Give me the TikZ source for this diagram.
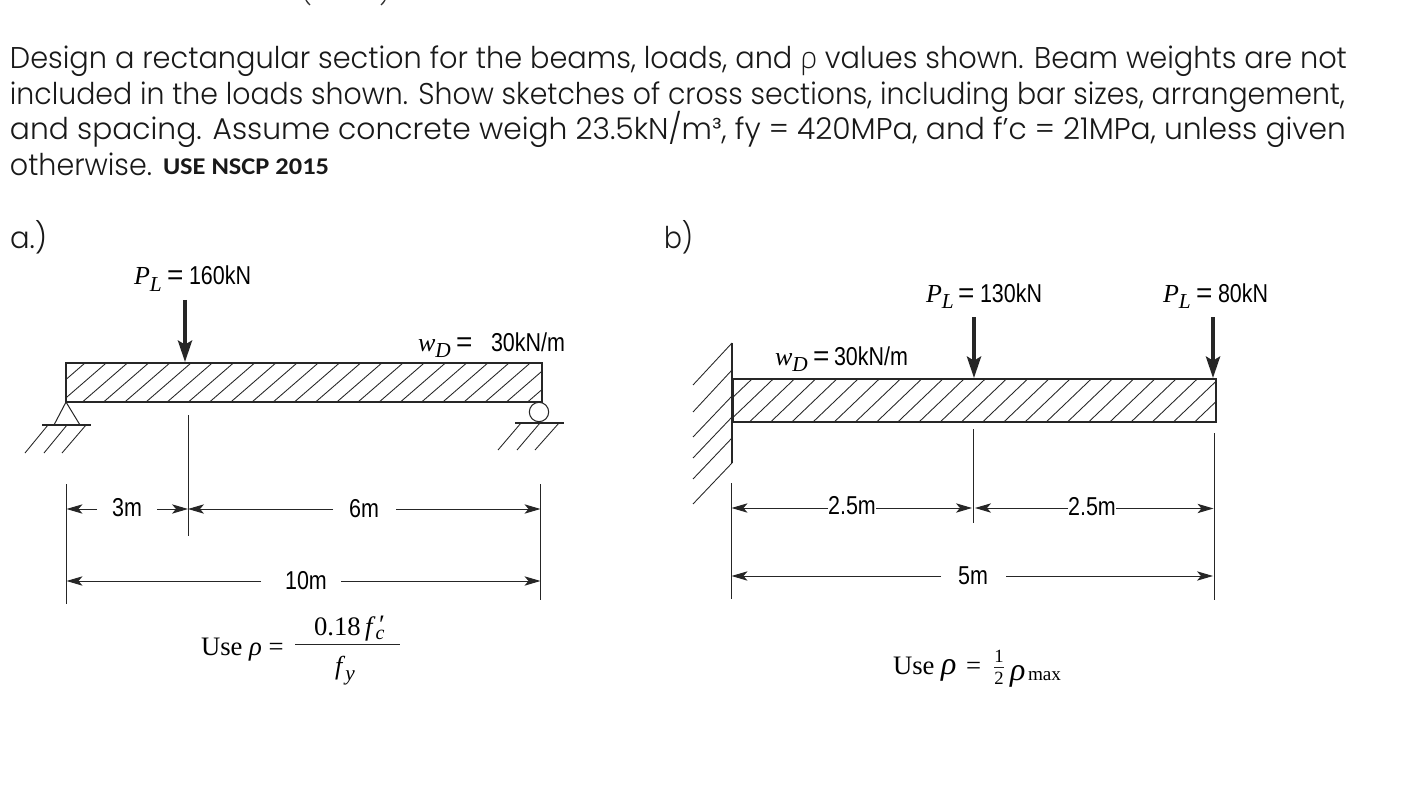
\documentclass[tikz,border=0pt]{standalone}
\usepackage{fontspec}
\usepackage{graphicx}
\setmainfont{Liberation Serif}
\setsansfont{Liberation Sans}
\newfontfamily\hdfont[UprightFont=* Light]{Poppins}
\newfontfamily\brfont{Carlito}
\newfontfamily\rhofont{Open Sans Light}
\usetikzlibrary{arrows.meta}
\newlength{\fitlen}
\newcommand{\fitw}[2]{\settowidth{\fitlen}{#2}\pgfmathsetmacro{\fitr}{#1*0.75/(\fitlen/1pt)}\scalebox{\fitr}[1]{#2}}
\newcommand{\lbl}[1]{\scalebox{.83}[1]{\sffamily\fontsize{19.4}{21}\selectfont #1}}
\newcommand{\eqs}{{\sffamily\fontsize{21}{22}\selectfont =}}
\newcommand{\mth}[2]{\fontsize{19.5}{21}\selectfont\textit{#1}\raisebox{-5pt}{\fontsize{16}{17}\selectfont\textit{#2}}}
\tikzset{
  x=0.75pt,y=-0.75pt,
  every node/.style={inner sep=0pt,outer sep=0pt},
  hd/.style={anchor=base west,text=black!90},
  tag/.style={anchor=base west},
  beamline/.style={line width=.8pt,draw=black!85},
  hatchline/.style={line width=.65pt,draw=black!85},
  extline/.style={line width=.75pt,draw=black!85},
  dimarrow/.style={line width=.75pt,draw=black!85,-{Stealth[length=12pt,width=7pt,inset=3pt]}},
  loadarrow/.style={line width=3pt,draw=black!85,-{Stealth[length=16pt,width=10.5pt,inset=3pt]}},
  groundline/.style={line width=2pt,draw=black!85},
}
\begin{document}
\begin{tikzpicture}
\useasboundingbox (0,0) rectangle (1422,788);
\fill[white] (0,0) rectangle (1422,788);
% header
\newcommand{\hdtxt}[1]{{\hdfont\fontsize{22.5}{26}\selectfont #1}}
\node[hd] (l1) at (10,69) {\fitw{1337}{\hdtxt{Design a rectangular section for the beams, loads, and {\rhofont ρ} values shown. Beam weights are not}}};
\node[hd] (l2) at (10,105) {\fitw{1335}{\hdtxt{included in the loads shown. Show sketches of cross sections, including bar sizes, arrangement,}}};
\node[hd] (l3) at (10,140) {\fitw{1336}{\hdtxt{and spacing. Assume concrete weigh 23.5kN/m³, fy = 420MPa, and f’c = 21MPa, unless given}}};
\node[hd] (l4) at (10,176) {\fitw{142}{\hdtxt{otherwise.}}};
\node[hd] (l5) at (163,175) {\fitw{166}{\brfont\bfseries\fontsize{18}{20}\selectfont USE NSCP 2015}};
\node[hd] (pa) at (10,249) {\fitw{37}{\hdtxt{a.)}}};
\node[hd] (pb) at (664,249) {\fitw{29}{\hdtxt{b)}}};
\draw[line width=1pt,black!80] (306,0) .. controls (307,2) and (308,3) .. (310,5);
\draw[line width=1pt,black!80] (385,0) .. controls (384,2) and (383,3) .. (381,5);
% beam a
\coordinate (aTL) at (66,363);
\coordinate (aBR) at (542,402);
\begin{scope}
\clip (aTL) rectangle (aBR);
\foreach \i in {0,...,25} \draw[hatchline] ({85+\i*21.2-45},402) -- ({85+\i*21.2},363);
\end{scope}
\draw[beamline] (aTL) rectangle (aBR);
% load a
\coordinate (la1) at (185,300);
\coordinate (la2) at (185,362);
\draw[loadarrow] (la1) -- (la2);
\node[tag] (pl1) at (134,285) {\mth{P}{L}};
\node[tag] (pl1e) at (167,285) {\eqs};
\node[tag] (pl1t) at (189,285) {\lbl{160kN}};
\node[tag] (wd1) at (418,351) {\mth{w}{D}};
\node[tag] (wd1e) at (456,351) {\eqs};
\node[tag] (wd1v) at (491,351) {\lbl{30kN/m}};
% pin support
\coordinate (p0) at (66,402);
\coordinate (p1) at (54,425);
\coordinate (p2) at (80,425);
\draw[extline] (p1) -- (p0) -- (p2);
\coordinate (g1) at (42,425);
\coordinate (g2) at (91,425);
\draw[groundline] (g1) -- (g2);
\foreach \a/\b in {25/48,44/67,62/86} \draw[hatchline] (\a,453) -- (\b,425);
% roller
\node[circle,draw=black!85,line width=.8pt,minimum size=14.5pt,fill=white] (roll) at (539,412) {};
\coordinate (g3) at (515,423);
\coordinate (g4) at (564,423);
\draw[groundline] (g3) -- (g4);
\foreach \a/\b in {498/521,517/540,535/559} \draw[hatchline] (\a,450) -- (\b,423);
% dimensions a
\draw[extline] (66.5,484) -- (66.5,604);
\draw[extline] (188,415) -- (188,536);
\draw[extline] (540.5,484) -- (540.5,600);
\node (d3) at (127,508) {\lbl{3m}};
\node (d6) at (364,509) {\lbl{6m}};
\node (d10) at (306,581) {\lbl{10m}};
\coordinate (a0y) at (66.5,509);
\coordinate (a1y) at (188,509);
\coordinate (a2y) at (540.5,509);
\draw[dimarrow] (97,509) -- (a0y);
\draw[dimarrow] (157,509) -- (a1y);
\draw[dimarrow] (333,509) -- (a1y);
\draw[dimarrow] (396,509) -- (a2y);
\coordinate (a3y) at (66.5,581);
\coordinate (a4y) at (540.5,581);
\draw[dimarrow] (261,581) -- (a3y);
\draw[dimarrow] (341,581) -- (a4y);
% use rho a
\node[tag,font=\fontsize{20}{22}\selectfont] (ua) at (201,655) {Use \textit{ρ} =};
\node[anchor=base,font=\fontsize{20}{22}\selectfont] (num) at (349.5,635) {0.18\,\textit{f}\raisebox{-3pt}{\fontsize{15}{16}\selectfont\textit{c}}\kern-4pt\raisebox{1.5pt}{\fontsize{20}{22}\selectfont ′}};
\node[anchor=base] (den) at (345,674) {\mth{f}{y}};
\coordinate (f1) at (295,644);
\coordinate (f2) at (400,644);
\draw[line width=.75pt,black!85] (f1) -- (f2);
% beam b
\coordinate (bTL) at (733,379);
\coordinate (bBR) at (1216,422);
\begin{scope}
\clip (bTL) rectangle (bBR);
\foreach \i in {0,...,25} \draw[hatchline] ({752+\i*21.2-45},422) -- ({752+\i*21.2},379);
\end{scope}
\draw[beamline] (bTL) rectangle (bBR);
% wall
\coordinate (w1) at (732,343);
\coordinate (w2) at (732,463);
\draw[beamline] (w1) -- (w2);
\foreach \a/\b in {343/385,370/412,396/437,417/458,438/479,463/504} \draw[hatchline] (732,\a) -- (693,\b);
% loads b
\draw[loadarrow] (974,317) -- (974,378);
\draw[loadarrow] (1213,317) -- (1213,378);
\node[tag] (pl2) at (926,302) {\mth{P}{L}};
\node[tag] (pl2e) at (958,302) {\eqs};
\node[tag] (pl2t) at (980,302) {\lbl{130kN}};
\node[tag] (pl3) at (1163,302) {\mth{P}{L}};
\node[tag] (pl3e) at (1196,302) {\eqs};
\node[tag] (pl3t) at (1218,302) {\lbl{80kN}};
\node[tag] (wd2) at (775,365) {\mth{w}{D}};
\node[tag] (wd2e) at (813,365) {\eqs};
\node[tag] (wd2t) at (834,365) {\lbl{30kN/m}};
% dimensions b
\draw[extline] (731.5,483) -- (731.5,599);
\draw[extline] (973.5,429) -- (973.5,523);
\draw[extline] (1214,433) -- (1214,600);
\node (e1) at (852,506) {\lbl{2.5m}};
\node (e2) at (1092,507) {\lbl{2.5m}};
\node (e3) at (973,576) {\lbl{5m}};
\draw[dimarrow] (828,508) -- (731.5,508);
\draw[dimarrow] (876,508) -- (972,508);
\draw[dimarrow] (1068,508) -- (975,508);
\draw[dimarrow] (1116,508.5) -- (1213.5,508.5);
\draw[dimarrow] (941,576) -- (731.5,576);
\draw[dimarrow] (1006,576) -- (1213,576);
% use rho b
\node[tag,font=\fontsize{20}{22}\selectfont] (ub) at (893,674) {Use};
\node[tag,font=\fontsize{24}{26}\selectfont] (ub1) at (941,674) {\textit{ρ}};
\node[tag,font=\fontsize{20}{22}\selectfont] (ub2) at (966,674) {=};
\node[anchor=center,font=\fontsize{14}{15}\selectfont] (h1) at (999,656) {1};
\node[anchor=center,font=\fontsize{14}{15}\selectfont] (h2) at (999,678) {2};
\coordinate (h3) at (994,667);
\coordinate (h4) at (1004,667);
\draw[line width=.5pt,black!85] (h3) -- (h4);
\node[tag,font=\fontsize{24}{26}\selectfont] (rm) at (1010,680) {\textit{ρ}};
\node[tag,font=\fontsize{14.4}{16}\selectfont] (rm2) at (1028,680) {max};
\end{tikzpicture}
\end{document}
